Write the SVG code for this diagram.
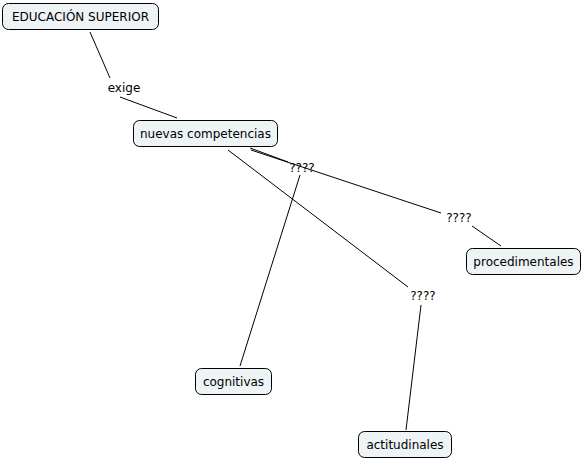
<svg xmlns="http://www.w3.org/2000/svg" width="583" height="460" viewBox="0 0 583 460">
<style>
.n{fill:#eef3f5;stroke:#000;stroke-width:1}
.t{font-family:"DejaVu Sans",Verdana,sans-serif;font-size:12px;fill:#000;text-anchor:middle;dominant-baseline:central}
.c line{stroke:#000;stroke-width:1}
</style>
<rect width="583" height="460" fill="#fff"/>
<g class="c" id="connectors">
<line x1="90" y1="32" x2="110" y2="78"/>
<line x1="120" y1="97" x2="177" y2="118"/>
<line x1="250" y1="148" x2="288" y2="162"/>
<line x1="251" y1="150" x2="441" y2="213"/>
<line x1="300" y1="175" x2="240" y2="366"/>
<line x1="228" y1="150" x2="408" y2="287"/>
<line x1="421" y1="305" x2="406" y2="430"/>
<line x1="472" y1="226" x2="501" y2="246"/>
</g>
<g id="educacion"><rect class="n" x="2.5" y="3.5" width="156" height="26" rx="6"/><text class="t" x="80.5" y="17">EDUCACIÓN SUPERIOR</text></g>
<g id="nuevas"><rect class="n" x="133.5" y="120.5" width="144" height="26" rx="6"/><text class="t" x="205.5" y="134">nuevas competencias</text></g>
<g id="procedimentales"><rect class="n" x="466.5" y="248.5" width="114" height="26" rx="6"/><text class="t" x="523.5" y="262">procedimentales</text></g>
<g id="cognitivas"><rect class="n" x="195.5" y="368.5" width="76" height="26" rx="6"/><text class="t" x="233.5" y="382">cognitivas</text></g>
<g id="actitudinales"><rect class="n" x="358.5" y="431.5" width="93" height="26" rx="6"/><text class="t" x="405" y="445">actitudinales</text></g>
<g id="lbl-exige"><text class="t" x="124" y="88">exige</text></g>
<g id="lbl-q1"><text class="t" x="302" y="168">????</text></g>
<g id="lbl-q2"><text class="t" x="459" y="218">????</text></g>
<g id="lbl-q3"><text class="t" x="423" y="296">????</text></g>
</svg>
